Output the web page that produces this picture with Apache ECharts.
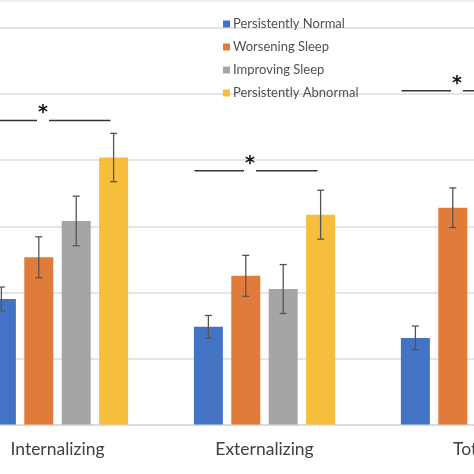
<!DOCTYPE html>
<html><head><meta charset="utf-8">
<script src="https://cdn.jsdelivr.net/npm/echarts@6/dist/echarts.min.js"></script>
<style>html,body{margin:0;padding:0;background:#fff}#c{width:474px;height:474px}</style>
</head><body><div id="c"></div>
<script>
const categories = ['Internalizing', 'Externalizing', 'Total'];
const seriesNames = ['Persistently Normal', 'Worsening Sleep', 'Improving Sleep', 'Persistently Abnormal'];
const normalVals = [1.90, 1.48, 1.31];
const normalErr = [0.18, 0.17, 0.18];
const worseningVals = [2.53, 2.25, 3.28];
const worseningErr = [0.31, 0.31, 0.30];
const improvingVals = [3.08, 2.05, 3.60];
const improvingErr = [0.375, 0.37, 0.37];
const abnormalVals = [4.04, 3.175, 4.60];
const abnormalErr = [0.365, 0.37, 0.37];
const sigLevels = [4.60, 3.84, 5.05];
const yTicks = [0, 1, 2, 3, 4, 5, 6];

const colors = ['#4472C4', '#E07B39', '#A5A5A5', '#F6BE3A'];
const vals = [normalVals, worseningVals, improvingVals, abnormalVals];
const errs = [normalErr, worseningErr, improvingErr, abnormalErr];
const BAR_W = 29, BAR_GAP = 0.29;
const pitch = BAR_W * (1 + BAR_GAP);

const chart = echarts.init(document.getElementById('c'));
const series = [];
vals.forEach((v, i) => {
  series.push({
    name: seriesNames[i], type: 'bar', data: v, barWidth: BAR_W, barGap: (BAR_GAP * 100) + '%',
    itemStyle: { color: colors[i] }, z: 2
  });
});
vals.forEach((v, i) => {
  series.push({
    type: 'custom', name: 'err' + i, z: 5, silent: true,
    data: v.map((val, k) => [k, val - errs[i][k], val + errs[i][k]]),
    renderItem: function (params, api) {
      const lo = api.coord([api.value(0), api.value(1)]);
      const hi = api.coord([api.value(0), api.value(2)]);
      const x = lo[0] + (i - 1.5) * pitch;
      const cap = 3.5;
      const st = { stroke: '#555', lineWidth: 1.3 };
      return { type: 'group', children: [
        { type: 'line', shape: { x1: x, y1: lo[1], x2: x, y2: hi[1] }, style: st },
        { type: 'line', shape: { x1: x - cap, y1: lo[1], x2: x + cap, y2: lo[1] }, style: st },
        { type: 'line', shape: { x1: x - cap, y1: hi[1], x2: x + cap, y2: hi[1] }, style: st }
      ]};
    }
  });
});

chart.setOption({
  animation: false,
  color: colors,
  grid: { left: -46, right: -101, top: 28, bottom: 49.5, outerBoundsMode: 'none', containLabel: false },
  legend: {
    data: seriesNames, orient: 'vertical', left: 218, top: 12,
    itemWidth: 7, itemHeight: 7, itemGap: 9, icon: 'rect',
    textStyle: { fontFamily: 'Lato', fontSize: 13, color: '#505050', lineHeight: 14, padding: [0, 0, 0, -2] }
  },
  xAxis: {
    type: 'category', data: categories,
    axisLine: { lineStyle: { color: '#d9d9d9', width: 1.5 } },
    axisTick: { show: false },
    axisLabel: { fontFamily: 'Lato', fontSize: 17.5, color: '#404040', margin: 16 }
  },
  yAxis: {
    type: 'value', min: yTicks[0], max: yTicks[yTicks.length - 1], interval: 1,
    axisLabel: { show: false }, axisLine: { show: false }, axisTick: { show: false },
    splitLine: { lineStyle: { color: '#dcdcdc', width: 1.5 } }
  },
  series: series
});

// significance brackets
const gfx = [{ type: 'rect', shape: { x: 0, y: 0, width: 474, height: 1.7 }, style: { fill: '#ececec' } }];
const segs = [[-70, -20.5], [-8.5, 53]];
categories.forEach((c, k) => {
  const p = chart.convertToPixel({ xAxisIndex: 0, yAxisIndex: 0 }, [k, sigLevels[k]]);
  segs.forEach(s => {
    gfx.push({ type: 'line', shape: { x1: p[0] + s[0], y1: p[1], x2: p[0] + s[1], y2: p[1] },
      style: { stroke: '#333', lineWidth: 1.6 }, z: 10 });
  });
  gfx.push({ type: 'text', x: p[0] - 14.5, y: p[1] - 7, z: 10,
    style: { text: '*', fill: '#111', font: 'bold 19px DejaVu Sans', textAlign: 'center', textVerticalAlign: 'middle' } });
});
chart.setOption({ graphic: gfx });
</script></body></html>
